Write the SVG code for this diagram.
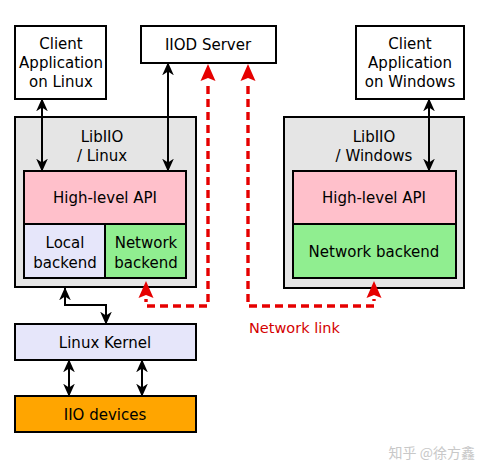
<svg xmlns="http://www.w3.org/2000/svg" width="487" height="474" viewBox="0 0 487 474">
<defs>
<style>
.box{stroke:#000;stroke-width:2}
.t{font-family:"DejaVu Sans",sans-serif;font-size:15px;text-anchor:middle;fill:#000}
.lnk{fill:none;stroke:#000;stroke-width:2}
.red{fill:none;stroke:#e60000;stroke-width:3.4;stroke-dasharray:8,5}
.rh{fill:#e60000}
</style>
<marker id="ah" viewBox="0 0 10 10" refX="9.5" refY="5" markerWidth="13" markerHeight="13" markerUnits="userSpaceOnUse" orient="auto-start-reverse">
<path d="M0,0.5 L10,5 L0,9.5 L3,5 Z" fill="#000"/>
</marker>
</defs>
<rect width="487" height="474" fill="#fff"/>
<g id="client-linux">
<rect class="box" x="15" y="26" width="91" height="73" fill="#fff"/>
<text class="t" x="61" y="49">Client</text>
<text class="t" x="61" y="68">Application</text>
<text class="t" x="61" y="87">on Linux</text>
</g>
<g id="iiod-server">
<rect class="box" x="141" y="26" width="135" height="37" fill="#fff"/>
<text class="t" x="208" y="50">IIOD Server</text>
</g>
<g id="client-windows">
<rect class="box" x="356" y="26" width="108" height="73" fill="#fff"/>
<text class="t" x="410" y="49">Client</text>
<text class="t" x="410" y="68">Application</text>
<text class="t" x="410" y="87">on Windows</text>
</g>
<g id="libiio-linux">
<rect class="box" x="15" y="117" width="181" height="170" fill="#e5e5e5"/>
<text class="t" x="102" y="142">LibIIO</text>
<text class="t" x="102" y="161">/ Linux</text>
<rect class="box" x="24" y="171" width="162" height="53" fill="#ffc0cb"/>
<text class="t" x="105" y="203">High-level API</text>
<rect class="box" x="24" y="224" width="81" height="54" fill="#e6e6fa"/>
<text class="t" x="65" y="248">Local</text>
<text class="t" x="65" y="268">backend</text>
<rect class="box" x="105" y="224" width="81" height="54" fill="#90ee90"/>
<text class="t" x="146" y="248">Network</text>
<text class="t" x="146" y="268">backend</text>
</g>
<g id="libiio-windows">
<rect class="box" x="284" y="117" width="180" height="171" fill="#e5e5e5"/>
<text class="t" x="374" y="142">LibIIO</text>
<text class="t" x="374" y="161">/ Windows</text>
<rect class="box" x="293" y="171" width="163" height="53" fill="#ffc0cb"/>
<text class="t" x="374" y="203">High-level API</text>
<rect class="box" x="293" y="224" width="163" height="54" fill="#90ee90"/>
<text class="t" x="374" y="257">Network backend</text>
</g>
<g id="linux-kernel">
<rect class="box" x="15" y="324" width="181" height="36" fill="#e6e6fa"/>
<text class="t" x="105" y="348">Linux Kernel</text>
</g>
<g id="iio-devices">
<rect class="box" x="15" y="396" width="181" height="36" fill="#ffa500"/>
<text class="t" x="105" y="420">IIO devices</text>
</g>
<g id="connectors">
<path class="lnk" d="M42,99 V171" marker-start="url(#ah)" marker-end="url(#ah)"/>
<path class="lnk" d="M168,63 V171" marker-start="url(#ah)" marker-end="url(#ah)"/>
<path class="lnk" d="M429,99 V171" marker-start="url(#ah)" marker-end="url(#ah)"/>
<path class="lnk" d="M65,288 V305 H106 V324" marker-start="url(#ah)" marker-end="url(#ah)"/>
<path class="lnk" d="M69,360 V396" marker-start="url(#ah)" marker-end="url(#ah)"/>
<path class="lnk" d="M142,360 V396" marker-start="url(#ah)" marker-end="url(#ah)"/>
<path class="red" d="M208,86 V306 H146 V299"/>
<path class="red" d="M248,86 V306 H374 V299"/>
<path class="rh" d="M208,64 L215.5,81 L208,78 L200.5,81 Z"/>
<path class="rh" d="M248,64 L255.5,81 L248,78 L240.5,81 Z"/>
<path class="rh" d="M146,281 L153.5,298 L146,295 L138.5,298 Z"/>
<path class="rh" d="M374,281 L381.5,298 L374,295 L366.5,298 Z"/>
<text x="249" y="333" font-family="DejaVu Sans, sans-serif" font-size="14.5" fill="#d40000">Network link</text>
</g>
<text x="475" y="458" font-family="Noto Sans CJK SC, sans-serif" font-size="14" fill="#c8c8c8" text-anchor="end">知乎 @徐方鑫</text>
</svg>
